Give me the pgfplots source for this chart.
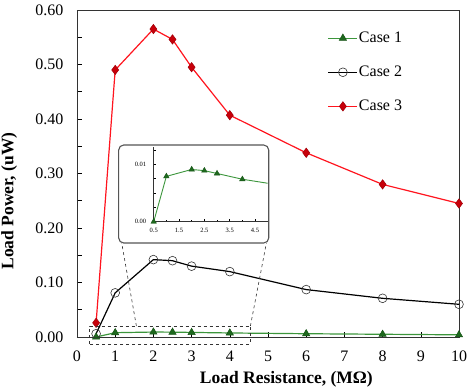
\documentclass[border=0pt]{standalone}
\usepackage{fontspec}
\setmainfont{Liberation Serif}
\usepackage{pgfplots}
\pgfplotsset{compat=1.18}
\definecolor{gline}{RGB}{60,150,60}
\definecolor{gmark}{RGB}{30,105,30}
\definecolor{rline}{RGB}{255,20,30}
\definecolor{rmark}{RGB}{200,0,10}
\definecolor{boxgray}{RGB}{85,85,85}
\begin{document}
\begin{tikzpicture}
\useasboundingbox (-77pt,-54pt) rectangle (397pt,337pt);
\begin{axis}[
  at={(0pt,0pt)}, anchor=south west,
  scale only axis, width=382pt, height=327pt,
  xmin=0, xmax=10, ymin=0, ymax=0.6,
  xtick={0,1,...,10},
  ytick={0,0.1,...,0.6},
  minor ytick={0.05,0.15,...,0.55},
  tick align=inside, xtick pos=left, ytick pos=left,
  major tick length=5pt, minor tick length=5pt,
  tick style={black, line width=0.6pt},
  axis line style={line width=0.8pt, black!80},
  /pgf/number format/assume math mode=true,
  yticklabel={\pgfmathprintnumber[fixed,fixed zerofill,precision=2]{\tick}},
  ticklabel style={font=\fontsize{16}{18}\selectfont},
  yticklabel style={xshift=-10pt},
  xticklabel style={yshift=-10pt},
  scaled y ticks=false,
  xlabel={\textbf{Load Resistance, (MΩ)}},
  ylabel={\textbf{Load Power, (uW)}},
  label style={font=\fontsize{17.5}{20}\selectfont},
  xlabel style={at={(axis description cs:0.548,-0.128)}, anchor=center},
  ylabel style={at={(axis description cs:-0.1775,0.416)}, anchor=center},
  legend style={draw=none, fill=none, at={(axis description cs:0.656,0.936)}, anchor=north west,
    font=\fontsize{16}{18}\selectfont, row sep=20pt, inner sep=0pt,
    nodes={inner sep=1pt}},
  legend cell align=left,
  legend image code/.code={\draw[mark repeat=2,mark phase=2,#1] plot coordinates {(0pt,0pt)(14.5pt,0pt)(29pt,0pt)};},
  clip=false,
]
\addplot[gline, line width=1.2pt, mark=triangle*, mark size=4.2pt, mark options={fill=gmark, draw=gmark!80!black, line width=0.5pt}]
  coordinates {(0.5,0) (1,0.0079) (2,0.0091) (2.5,0.0089) (3,0.0084) (4,0.0074) (6,0.006) (8,0.005) (10,0.004)};
\addlegendentry{Case 1}
\addplot[black, line width=1.2pt, mark=o, mark size=4.4pt, mark options={fill=white, draw=black!80, line width=0.6pt}]
  coordinates {(0.5,0.006) (1,0.081) (2,0.142) (2.5,0.140) (3,0.130) (4,0.120) (6,0.087) (8,0.071) (10,0.060)};
\addlegendentry{Case 2}
\addplot[rline, line width=1.2pt, mark=diamond*, mark size=4.7pt, mark options={fill=rmark, draw=rmark!80!black, line width=0.5pt}]
  coordinates {(0.5,0.026) (1,0.490) (2,0.565) (2.5,0.546) (3,0.495) (4,0.407) (6,0.338) (8,0.280) (10,0.245)};
\addlegendentry{Case 3}
\end{axis}
% zoom frame, connectors and inset box
\draw[dashed, line width=0.6pt, black!80] (12.6pt,-7pt) rectangle (173.4pt,11pt);
\draw[dashed, line width=0.6pt, black!80] (59.4pt,11pt) -- (44.7pt,94pt);
\draw[dashed, line width=0.6pt, black!80] (173.4pt,11pt) -- (189.4pt,94pt);
\draw[boxgray, line width=1.1pt, fill=white, rounded corners=5pt] (41.7pt,94pt) rectangle (191.7pt,192pt);
\begin{axis}[
  at={(76.7pt,115.3pt)}, anchor=south west,
  scale only axis, width=114pt, height=74.6pt,
  xmin=0.5, xmax=5, ymin=0, ymax=0.013,
  axis x line=bottom, axis y line=left,
  axis line style={-, line width=0.6pt, black!80},
  xtick={0.5,1.5,2.5,3.5,4.5},
  minor xtick={1,2,3,4},
  ytick={0,0.01},
  minor ytick={0.0025,0.005,0.0075,0.0125},
  tick align=inside,
  major tick length=2.5pt, minor tick length=2pt,
  tick style={black, line width=0.5pt},
  /pgf/number format/assume math mode=true,
  yticklabel={\pgfmathprintnumber[fixed,fixed zerofill,precision=2]{\tick}},
  xticklabel={\pgfmathprintnumber[fixed,precision=1]{\tick}},
  scaled y ticks=false,
  ticklabel style={font=\fontsize{6.5}{7.5}\selectfont},
  yticklabel style={xshift=-4pt},
  xticklabel style={yshift=-3pt},
  clip=true,
]
\addplot[gline, line width=0.9pt, mark=triangle*, mark size=3.2pt, mark options={fill=gmark, draw=gmark!80!black, line width=0.4pt}]
  coordinates {(0.5,0) (1,0.0079) (2,0.0091) (2.5,0.0089) (3,0.0084) (4,0.0074) (6,0.006) (8,0.005) (10,0.004)};
\end{axis}
\end{tikzpicture}
\end{document}
